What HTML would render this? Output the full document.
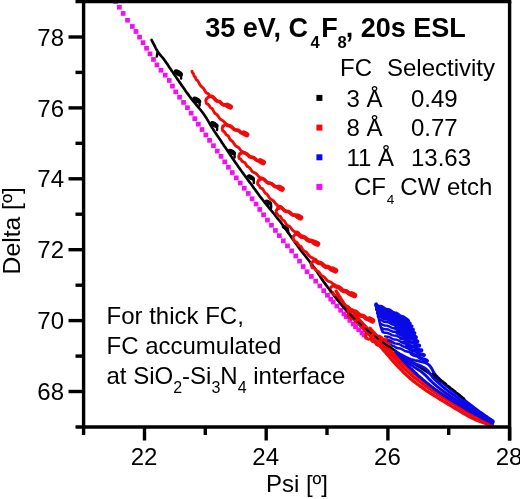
<!DOCTYPE html>
<html><head><meta charset="utf-8"><title>Psi-Delta plot</title>
<style>
html,body{margin:0;padding:0;background:#fff;}
body{width:520px;height:499px;overflow:hidden;}
svg{display:block;}
</style></head><body>
<svg width="520" height="499" viewBox="0 0 520 499">
<rect width="520" height="499" fill="#fff"/>
<g fill="#f20df2">
<rect x="113.2" y="-0.9" width="4.7" height="4.7"/>
<rect x="117.0" y="4.9" width="4.7" height="4.7"/>
<rect x="120.8" y="11.1" width="4.7" height="4.7"/>
<rect x="125.2" y="17.9" width="4.7" height="4.7"/>
<rect x="130.0" y="24.1" width="4.7" height="4.7"/>
<rect x="133.6" y="29.1" width="4.7" height="4.7"/>
<rect x="137.2" y="34.8" width="4.7" height="4.7"/>
<rect x="140.7" y="40.3" width="4.7" height="4.7"/>
<rect x="144.2" y="45.9" width="4.7" height="4.7"/>
<rect x="147.6" y="51.5" width="4.7" height="4.7"/>
<rect x="151.1" y="57.1" width="4.7" height="4.7"/>
<rect x="154.6" y="62.6" width="4.7" height="4.7"/>
<rect x="158.6" y="67.9" width="4.7" height="4.7"/>
<rect x="162.9" y="72.8" width="4.7" height="4.7"/>
<rect x="166.9" y="78.1" width="4.7" height="4.7"/>
<rect x="170.1" y="83.8" width="4.7" height="4.7"/>
<rect x="173.4" y="89.5" width="4.7" height="4.7"/>
<rect x="177.2" y="94.9" width="4.7" height="4.7"/>
<rect x="181.2" y="100.1" width="4.7" height="4.7"/>
<rect x="185.1" y="105.3" width="4.7" height="4.7"/>
<rect x="188.8" y="110.8" width="4.7" height="4.7"/>
<rect x="192.4" y="116.3" width="4.7" height="4.7"/>
<rect x="196.0" y="121.8" width="4.7" height="4.7"/>
<rect x="199.7" y="127.2" width="4.7" height="4.7"/>
<rect x="203.5" y="132.6" width="4.7" height="4.7"/>
<rect x="207.2" y="138.0" width="4.7" height="4.7"/>
<rect x="211.1" y="143.3" width="4.7" height="4.7"/>
<rect x="214.9" y="148.7" width="4.7" height="4.7"/>
<rect x="218.7" y="154.0" width="4.7" height="4.7"/>
<rect x="222.4" y="159.5" width="4.7" height="4.7"/>
<rect x="226.1" y="164.9" width="4.7" height="4.7"/>
<rect x="229.9" y="170.2" width="4.7" height="4.7"/>
<rect x="233.9" y="175.5" width="4.7" height="4.7"/>
<rect x="237.9" y="180.7" width="4.7" height="4.7"/>
<rect x="241.9" y="185.9" width="4.7" height="4.7"/>
<rect x="245.9" y="191.1" width="4.7" height="4.7"/>
<rect x="249.8" y="196.4" width="4.7" height="4.7"/>
<rect x="253.7" y="201.7" width="4.7" height="4.7"/>
<rect x="257.4" y="207.1" width="4.7" height="4.7"/>
<rect x="261.2" y="212.4" width="4.7" height="4.7"/>
<rect x="265.1" y="217.7" width="4.7" height="4.7"/>
<rect x="269.1" y="222.9" width="4.7" height="4.7"/>
<rect x="273.1" y="228.1" width="4.7" height="4.7"/>
<rect x="277.0" y="233.3" width="4.7" height="4.7"/>
<rect x="281.0" y="238.5" width="4.7" height="4.7"/>
<rect x="285.1" y="243.5" width="4.7" height="4.7"/>
<rect x="289.3" y="248.5" width="4.7" height="4.7"/>
<rect x="293.4" y="253.6" width="4.7" height="4.7"/>
<rect x="297.2" y="258.8" width="4.7" height="4.7"/>
<rect x="300.8" y="264.2" width="4.7" height="4.7"/>
<rect x="304.7" y="269.4" width="4.7" height="4.7"/>
<rect x="309.0" y="274.1" width="4.7" height="4.7"/>
<rect x="313.4" y="278.8" width="4.7" height="4.7"/>
<rect x="317.5" y="283.6" width="4.7" height="4.7"/>
<rect x="321.4" y="288.3" width="4.7" height="4.7"/>
<rect x="325.1" y="292.9" width="4.7" height="4.7"/>
<rect x="328.4" y="296.8" width="4.7" height="4.7"/>
<rect x="330.9" y="299.7" width="4.7" height="4.7"/>
<rect x="334.5" y="303.7" width="4.7" height="4.7"/>
<rect x="338.3" y="307.9" width="4.7" height="4.7"/>
<rect x="341.6" y="311.5" width="4.7" height="4.7"/>
<rect x="344.0" y="314.2" width="4.7" height="4.7"/>
<rect x="347.5" y="318.0" width="4.7" height="4.7"/>
<rect x="350.8" y="321.7" width="4.7" height="4.7"/>
<rect x="353.2" y="324.3" width="4.7" height="4.7"/>
<rect x="356.4" y="327.4" width="4.7" height="4.7"/>
<rect x="359.6" y="330.6" width="4.7" height="4.7"/>
<rect x="361.7" y="332.7" width="4.7" height="4.7"/>
</g>
<g fill="none" stroke="#000" stroke-width="2.7" stroke-linecap="round" stroke-linejoin="round">
<path d="M151.6 40.0 L152.0 40.8 L152.4 41.5 L152.8 42.3 L153.2 43.1 L153.6 43.9 L154.0 44.7 L154.4 45.5 L154.8 46.2 L155.2 47.0 L155.6 47.8 L156.0 48.5 L156.4 49.3 L156.8 50.0 L157.2 50.7 L157.6 51.4 L158.0 52.0 L158.4 52.6 L158.8 53.1 L159.1 53.6 L159.5 54.1 L159.8 54.5 L160.2 54.9 L160.5 55.3 L160.9 55.7 L161.2 56.1 L161.6 56.5 L162.0 57.0 L162.4 57.5 L162.9 58.0 L163.4 58.6 L163.9 59.3 L164.4 60.0 L165.0 60.8 L165.6 61.7 L166.2 62.6 L166.9 63.5 L167.6 64.5 L168.3 65.6 L169.0 66.7 L169.7 67.8 L170.5 68.9 L171.2 70.0 L172.0 71.2 L172.8 72.3 L173.6 73.5 L174.4 74.7 L175.2 75.8 L176.0 77.0 L176.8 78.2 L177.6 79.4 L178.5 80.6 L179.3 81.9 L180.2 83.1 L181.1 84.4 L182.0 85.7 L182.9 87.0 L183.8 88.3 L184.7 89.6 L185.6 90.9 L186.5 92.2 L187.4 93.4 L188.3 94.6 L189.1 95.8 L190.0 97.0 L190.9 98.1 L191.7 99.2 L192.6 100.3 L193.4 101.4 L194.3 102.4 L195.2 103.4 L196.0 104.5 L196.9 105.5 L197.7 106.5 L198.6 107.5 L199.4 108.5 L200.2 109.5 L201.0 110.5 L201.8 111.5 L202.6 112.5 L203.3 113.5 L204.0 114.5 L204.7 115.5 L205.4 116.6 L206.0 117.6 L206.7 118.6 L207.3 119.6 L207.9 120.6 L208.5 121.6 L209.1 122.6 L209.7 123.7 L210.3 124.7 L210.9 125.7 L211.6 126.8 L212.2 127.8 L212.9 128.9 L213.6 130.0 L214.3 131.1 L215.0 132.2 L215.8 133.3 L216.6 134.5 L217.3 135.6 L218.1 136.8 L218.9 138.0 L219.7 139.1 L220.5 140.3 L221.3 141.5 L222.0 142.7 L222.8 143.8 L223.6 145.0 L224.4 146.2 L225.2 147.3 L226.0 148.5 L226.8 149.6 L227.5 150.8 L228.3 151.9 L229.0 153.0 L229.7 154.1 L230.5 155.2 L231.2 156.3 L231.9 157.4 L232.7 158.5 L233.4 159.6 L234.2 160.7 L235.0 161.9 L235.8 163.1 L236.7 164.3 L237.6 165.6 L238.5 166.9 L239.5 168.3 L240.5 169.7 L241.6 171.3 L242.8 172.9 L244.0 174.5 L245.2 176.1 L246.4 177.8 L247.6 179.5 L248.8 181.1 L250.0 182.7 L251.2 184.3 L252.3 185.8 L253.3 187.2 L254.3 188.6 L255.2 189.8 L256.0 190.9 L256.7 191.9 L257.3 192.6 L257.8 193.3 L258.2 193.9 L258.5 194.3 L258.8 194.7 L259.0 195.1 L259.3 195.5 L259.5 195.8 L259.8 196.2 L260.1 196.6 L260.5 197.0 L260.9 197.6 L261.4 198.3 L262.1 199.0 L262.8 200.0 L263.7 201.1 L264.6 202.3 L265.7 203.6 L266.8 205.0 L268.0 206.4 L269.2 208.0 L270.5 209.5 L271.8 211.2 L273.2 212.8 L274.5 214.5 L275.8 216.1 L277.1 217.8 L278.4 219.4 L279.7 221.0 L280.9 222.5 L282.0 224.0 L283.1 225.5 L284.2 226.9 L285.2 228.3 L286.2 229.8 L287.2 231.2 L288.2 232.6 L289.2 234.0 L290.2 235.5 L291.2 236.9 L292.1 238.3 L293.1 239.6 L294.1 241.0 L295.0 242.4 L296.0 243.8 L297.0 245.1 L298.0 246.5 L299.0 247.9 L300.0 249.2 L301.1 250.6 L302.1 252.0 L303.2 253.3 L304.3 254.7 L305.3 256.0 L306.4 257.4 L307.4 258.7 L308.4 260.0 L309.4 261.3 L310.4 262.6 L311.4 263.8 L312.3 265.0 L313.2 266.2 L314.0 267.3 L314.8 268.4 L315.5 269.4 L316.2 270.4 L316.8 271.3 L317.4 272.2 L317.9 273.1 L318.5 273.9 L319.0 274.8 L319.5 275.6 L320.1 276.4 L320.6 277.3 L321.2 278.2 L321.8 279.1 L322.5 280.1 L323.2 281.1 L324.0 282.2 L324.8 283.3 L325.7 284.6 L326.7 285.8 L327.6 287.1 L328.7 288.5 L329.7 289.8 L330.7 291.2 L331.8 292.6 L332.9 294.0 L334.0 295.4 L335.0 296.8 L336.1 298.1 L337.1 299.4 L338.1 300.7 L339.1 301.9 L340.0 303.0 L340.9 304.1 L341.8 305.1 L342.6 306.1 L343.4 307.1 L344.2 308.1 L345.0 309.0 L345.8 309.9 L346.6 310.8 L347.4 311.6 L348.2 312.5 L348.9 313.3 L349.7 314.1 L350.5 315.0 L351.3 315.8 L352.2 316.7 L353.0 317.5 L353.8 318.3 L354.6 319.1 L355.3 319.8 L356.1 320.6 L356.8 321.3 L357.5 321.9 L358.2 322.6 L358.9 323.3 L359.7 324.0 L360.6 324.8 L361.5 325.6 L362.4 326.4 L363.5 327.2 L364.6 328.2 L365.9 329.2 L367.3 330.3 L368.8 331.5 L370.5 332.7 L372.2 334.1 L374.0 335.5 L376.0 336.9 L378.0 338.4 L380.0 339.9 L382.1 341.5 L384.3 343.0 L386.5 344.6 L388.7 346.2 L390.9 347.8 L393.1 349.4 L395.3 350.9 L397.5 352.5 L399.7 354.0 L401.9 355.5 L404.1 357.0 L406.4 358.5 L408.7 360.0 L411.0 361.6 L413.4 363.1 L415.8 364.6 L418.1 366.2 L420.5 367.7 L422.8 369.2 L425.1 370.7 L427.4 372.2 L429.7 373.7 L431.8 375.1 L434.0 376.6 L436.0 378.0 L438.0 379.4 L439.9 380.8 L441.8 382.1 L443.6 383.5 L445.4 384.8 L447.1 386.1 L448.8 387.4 L450.5 388.7 L452.2 390.0 L453.9 391.3 L455.5 392.5 L457.2 393.8 L458.9 395.1 L460.6 396.4 L462.3 397.7 L464.0 399.0"/>
<ellipse cx="178.3" cy="73.0" rx="4.6" ry="2.3" transform="rotate(30 178.3 73.0)" fill="#000" stroke-width="1"/>
<path d="M181.1 75.2 L181.1 78.5" stroke-width="2.4"/>
<ellipse cx="196.8" cy="100.0" rx="4.4" ry="2.2" transform="rotate(30 196.8 100.0)" fill="#000" stroke-width="1"/>
<path d="M199.6 102.2 L199.6 105.5" stroke-width="2.4"/>
<ellipse cx="214.3" cy="124.5" rx="4.2" ry="2.1" transform="rotate(30 214.3 124.5)" fill="#000" stroke-width="1"/>
<path d="M217.1 126.7 L217.1 130.0" stroke-width="2.4"/>
<ellipse cx="231.8" cy="152.0" rx="4.0" ry="2.0" transform="rotate(30 231.8 152.0)" fill="#000" stroke-width="1"/>
<path d="M234.6 154.2 L234.6 157.5" stroke-width="2.4"/>
<ellipse cx="251.0" cy="177.5" rx="3.9" ry="1.9" transform="rotate(30 251.0 177.5)" fill="#000" stroke-width="1"/>
<path d="M253.8 179.7 L253.8 183.0" stroke-width="2.4"/>
<ellipse cx="268.3" cy="202.5" rx="3.7" ry="1.8" transform="rotate(30 268.3 202.5)" fill="#000" stroke-width="1"/>
<path d="M271.1 204.7 L271.1 208.0" stroke-width="2.4"/>
<ellipse cx="285.3" cy="227.5" rx="3.5" ry="1.7" transform="rotate(30 285.3 227.5)" fill="#000" stroke-width="1"/>
<path d="M288.1 229.7 L288.1 233.0" stroke-width="2.4"/>
<path d="M157.5 52.5 L156.8 56.5" stroke-width="2.4"/>
</g>
<g fill="none" stroke="#f20a0a" stroke-width="2.9" stroke-linecap="round" stroke-linejoin="round">
<path d="M192.0 71.2 L192.3 72.3 L192.6 72.9 L192.9 73.0 L193.2 73.2 L193.5 73.9 L193.8 75.1 L194.1 76.1 L194.5 76.5 L194.9 76.6 L195.2 76.9 L195.5 77.7 L195.9 78.9 L196.3 79.7 L196.8 80.1 L197.3 80.3 L198.0 81.1 L198.8 82.6 L199.7 84.4 L200.8 85.9 L201.8 86.8 L203.0 87.8 L204.0 89.2 L205.1 91.0 L206.0 92.5 L206.8 93.2 L207.5 93.4 L208.2 93.6 L208.8 94.3 L209.5 95.4 L210.2 96.2 L211.0 96.4 L211.9 96.5 L212.9 97.0 L214.1 98.2 L215.3 99.7 L216.6 100.7 L217.8 101.2 L219.1 101.5 L220.4 102.2 L221.5 103.4 L222.7 104.5 L223.8 104.9 L224.9 104.8 L225.9 104.8 L227.0 105.3 L228.1 106.3 L229.1 107.0 L230.2 107.2"/>
<path d="M211.9 96.5 L212.9 97.0 L214.1 98.2 L215.3 99.7 L216.6 100.7 L217.8 101.2 L219.1 101.5 L220.4 102.2 L221.5 103.4 L222.7 104.5 L223.8 104.9 L224.9 104.8 L225.9 104.8 L227.0 105.3 L228.1 106.3 L229.1 107.0 L230.2 107.2" stroke-width="3.7"/>
<path d="M227.4 105.4 L230.2 106.9" stroke-width="5.6"/>
<path d="M209.9 96.8 L209.5 97.1 L209.0 96.9 L208.5 96.7 L208.0 97.1 L207.5 97.9 L207.1 98.6 L206.8 98.8 L206.5 98.6 L206.3 98.6 L206.1 99.3 L205.9 100.3 L205.8 101.0 L205.8 101.1 L205.9 101.0 L206.0 101.3 L206.2 102.3 L206.5 103.4 L207.0 104.0 L207.5 104.2 L208.1 104.3 L208.8 104.9 L209.5 106.1 L210.2 107.3 L210.9 108.0 L211.6 108.3 L212.3 108.8 L213.0 109.9 L213.7 111.4 L214.5 112.8 L215.3 113.6 L216.2 114.0 L217.1 114.8 L218.1 116.2 L219.2 117.8 L220.3 119.2 L221.4 119.9 L222.6 120.5 L223.8 121.5 L225.1 123.0 L226.3 124.5 L227.6 125.4 L228.9 125.7 L230.3 126.1 L231.7 127.0 L233.0 128.3 L234.4 129.5 L235.8 130.0 L237.0 130.1 L238.3 130.4 L239.5 131.2 L240.7 132.3 L241.9 133.1 L243.1 133.3 L244.2 133.2 L245.4 133.5 L246.6 134.5"/>
<path d="M226.3 124.5 L227.6 125.4 L228.9 125.7 L230.3 126.1 L231.7 127.0 L233.0 128.3 L234.4 129.5 L235.8 130.0 L237.0 130.1 L238.3 130.4 L239.5 131.2 L240.7 132.3 L241.9 133.1 L243.1 133.3 L244.2 133.2 L245.4 133.5 L246.6 134.5" stroke-width="3.7"/>
<path d="M243.8 133.1 L246.6 134.6" stroke-width="5.6"/>
<path d="M226.3 124.5 L225.9 124.3 L225.4 124.1 L224.9 124.4 L224.4 125.2 L223.9 126.0 L223.5 126.2 L223.2 126.0 L222.9 126.0 L222.7 126.5 L222.5 127.5 L222.3 128.2 L222.2 128.4 L222.2 128.3 L222.2 128.5 L222.4 129.4 L222.6 130.5 L222.9 131.2 L223.4 131.3 L223.9 131.4 L224.5 132.0 L225.2 133.1 L225.9 134.3 L226.6 135.0 L227.3 135.3 L228.0 135.7 L228.7 136.7 L229.4 138.2 L230.2 139.6 L231.0 140.4 L231.8 140.8 L232.7 141.6 L233.6 142.9 L234.6 144.5 L235.7 145.9 L236.8 146.7 L238.0 147.2 L239.2 148.2 L240.4 149.8 L241.7 151.4 L242.9 152.4 L244.2 152.8 L245.5 153.2 L246.9 154.1 L248.3 155.4 L249.6 156.6 L251.0 157.2 L252.4 157.4 L253.6 157.7 L254.9 158.5 L256.1 159.7 L257.3 160.5 L258.5 160.7 L259.7 160.7 L260.8 160.9 L262.0 161.8 L263.2 162.9"/>
<path d="M242.9 152.4 L244.2 152.8 L245.5 153.2 L246.9 154.1 L248.3 155.4 L249.6 156.6 L251.0 157.2 L252.4 157.4 L253.6 157.7 L254.9 158.5 L256.1 159.7 L257.3 160.5 L258.5 160.7 L259.7 160.7 L260.8 160.9 L262.0 161.8 L263.2 162.9" stroke-width="3.7"/>
<path d="M260.4 161.0 L263.2 162.5" stroke-width="5.6"/>
<path d="M242.9 152.0 L242.5 151.8 L242.0 152.0 L241.5 152.8 L241.0 153.6 L240.5 153.8 L240.1 153.6 L239.8 153.5 L239.5 154.0 L239.3 155.0 L239.1 155.7 L238.9 155.9 L238.8 155.8 L238.8 156.0 L238.8 156.8 L239.0 157.8 L239.2 158.5 L239.6 158.7 L240.1 158.6 L240.7 159.1 L241.3 160.1 L242.1 161.2 L242.8 161.8 L243.6 162.0 L244.4 162.3 L245.2 163.1 L246.0 164.5 L246.8 165.8 L247.6 166.6 L248.5 167.0 L249.4 167.6 L250.4 168.8 L251.4 170.4 L252.5 171.7 L253.7 172.4 L255.0 172.9 L256.3 173.8 L257.7 175.3 L259.0 176.9 L260.4 178.0 L261.7 178.5 L263.0 178.8 L264.4 179.7 L265.7 181.0 L267.1 182.3 L268.5 183.0 L269.8 183.2 L271.2 183.5 L272.5 184.3 L273.7 185.5 L274.9 186.5 L276.1 186.8 L277.3 186.7 L278.5 186.9 L279.6 187.7 L280.8 188.8 L282.0 189.5"/>
<path d="M261.7 178.5 L263.0 178.8 L264.4 179.7 L265.7 181.0 L267.1 182.3 L268.5 183.0 L269.8 183.2 L271.2 183.5 L272.5 184.3 L273.7 185.5 L274.9 186.5 L276.1 186.8 L277.3 186.7 L278.5 186.9 L279.6 187.7 L280.8 188.8 L282.0 189.5" stroke-width="3.7"/>
<path d="M279.2 187.5 L282.0 189.0" stroke-width="5.6"/>
<path d="M261.7 178.0 L261.3 178.2 L260.8 179.0 L260.3 179.8 L259.8 180.1 L259.3 179.8 L258.9 179.7 L258.6 180.1 L258.3 181.0 L258.1 181.8 L257.9 182.0 L257.7 181.9 L257.6 182.0 L257.6 182.7 L257.6 183.7 L257.8 184.5 L258.0 184.7 L258.4 184.7 L258.9 185.2 L259.5 186.2 L260.1 187.4 L260.8 188.2 L261.6 188.5 L262.4 188.7 L263.1 189.6 L263.9 191.0 L264.7 192.4 L265.5 193.3 L266.3 193.7 L267.1 194.4 L268.1 195.6 L269.0 197.3 L270.1 198.7 L271.2 199.5 L272.4 200.1 L273.6 201.0 L274.9 202.6 L276.2 204.3 L277.5 205.6 L278.9 206.3 L280.2 206.8 L281.5 207.6 L282.9 209.0 L284.2 210.3 L285.6 211.1 L287.0 211.4 L288.3 211.6 L289.7 212.4 L291.0 213.6 L292.2 214.7 L293.4 215.1 L294.6 215.0 L295.8 215.2 L297.0 216.0 L298.1 217.1 L299.3 217.8 L300.5 218.0"/>
<path d="M280.2 206.8 L281.5 207.6 L282.9 209.0 L284.2 210.3 L285.6 211.1 L287.0 211.4 L288.3 211.6 L289.7 212.4 L291.0 213.6 L292.2 214.7 L293.4 215.1 L294.6 215.0 L295.8 215.2 L297.0 216.0 L298.1 217.1 L299.3 217.8 L300.5 218.0" stroke-width="3.7"/>
<path d="M297.7 216.3 L300.5 217.8" stroke-width="5.6"/>
<path d="M280.2 206.7 L279.8 207.4 L279.3 208.2 L278.8 208.6 L278.3 208.4 L277.8 208.2 L277.4 208.5 L277.1 209.4 L276.8 210.2 L276.6 210.5 L276.4 210.3 L276.2 210.4 L276.1 211.0 L276.1 212.1 L276.1 212.9 L276.3 213.1 L276.5 213.0 L276.8 213.3 L277.3 214.1 L277.9 215.2 L278.5 215.9 L279.2 216.1 L279.9 216.1 L280.6 216.7 L281.3 217.9 L282.0 219.2 L282.7 220.0 L283.5 220.4 L284.2 220.9 L285.0 221.9 L285.9 223.5 L286.8 224.8 L287.8 225.6 L288.8 226.0 L289.9 226.7 L291.0 228.1 L292.2 229.7 L293.4 231.0 L294.7 231.6 L295.9 232.1 L297.2 232.9 L298.5 234.2 L299.8 235.6 L301.2 236.5 L302.6 236.8 L303.9 237.1 L305.3 237.9 L306.7 239.1 L308.0 240.2 L309.2 240.7 L310.4 240.7 L311.6 240.9 L312.8 241.7 L314.0 242.7 L315.1 243.5 L316.3 243.7 L317.5 243.7"/>
<path d="M297.2 232.9 L298.5 234.2 L299.8 235.6 L301.2 236.5 L302.6 236.8 L303.9 237.1 L305.3 237.9 L306.7 239.1 L308.0 240.2 L309.2 240.7 L310.4 240.7 L311.6 240.9 L312.8 241.7 L314.0 242.7 L315.1 243.5 L316.3 243.7 L317.5 243.7" stroke-width="4.5"/>
<path d="M314.7 242.5 L317.5 244.0" stroke-width="5.6"/>
<path d="M297.2 233.2 L296.8 234.1 L296.3 234.5 L295.8 234.4 L295.3 234.1 L294.8 234.4 L294.4 235.2 L294.1 236.0 L293.8 236.3 L293.6 236.2 L293.4 236.2 L293.2 236.7 L293.1 237.7 L293.1 238.6 L293.1 238.8 L293.3 238.7 L293.5 239.0 L293.9 239.8 L294.3 240.9 L294.9 241.7 L295.6 241.8 L296.3 241.9 L297.0 242.4 L297.8 243.5 L298.5 244.8 L299.3 245.6 L300.0 246.0 L300.8 246.4 L301.6 247.4 L302.4 249.0 L303.3 250.4 L304.3 251.2 L305.3 251.6 L306.4 252.3 L307.5 253.6 L308.7 255.3 L310.0 256.6 L311.3 257.4 L312.6 257.9 L313.9 258.7 L315.2 260.1 L316.5 261.5 L317.9 262.5 L319.2 262.9 L320.6 263.1 L322.0 263.9 L323.3 265.1 L324.7 266.3 L326.0 266.9 L327.2 267.0 L328.4 267.2 L329.6 267.9 L330.8 269.0 L332.0 269.8 L333.1 270.1 L334.3 270.0 L335.5 270.3"/>
<path d="M315.2 260.1 L316.5 261.5 L317.9 262.5 L319.2 262.9 L320.6 263.1 L322.0 263.9 L323.3 265.1 L324.7 266.3 L326.0 266.9 L327.2 267.0 L328.4 267.2 L329.6 267.9 L330.8 269.0 L332.0 269.8 L333.1 270.1 L334.3 270.0 L335.5 270.3" stroke-width="4.5"/>
<path d="M332.7 269.3 L335.5 270.8" stroke-width="5.6"/>
<path d="M315.2 260.6 L314.8 261.0 L314.3 260.9 L313.8 260.7 L313.3 260.9 L312.8 261.6 L312.4 262.5 L312.1 262.8 L311.8 262.6 L311.6 262.6 L311.4 263.1 L311.2 264.1 L311.1 264.9 L311.1 265.2 L311.1 265.1 L311.3 265.3 L311.5 266.0 L311.9 267.1 L312.4 267.8 L313.0 267.9 L313.7 267.8 L314.4 268.1 L315.2 269.1 L316.0 270.2 L316.8 270.9 L317.5 271.2 L318.3 271.4 L319.1 272.3 L320.0 273.7 L320.9 275.0 L321.8 275.8 L322.8 276.2 L323.8 276.7 L325.0 277.8 L326.2 279.4 L327.5 280.7 L328.8 281.4 L330.1 281.8 L331.5 282.5 L332.9 283.8 L334.2 285.3 L335.5 286.3 L336.9 286.7 L338.3 287.0 L339.6 287.8 L341.0 289.0 L342.3 290.3 L343.7 291.0 L345.0 291.1 L346.2 291.3 L347.4 292.0 L348.6 293.1 L349.8 294.0 L351.0 294.3 L352.1 294.2 L353.3 294.4 L354.5 295.2"/>
<path d="M334.2 285.3 L335.5 286.3 L336.9 286.7 L338.3 287.0 L339.6 287.8 L341.0 289.0 L342.3 290.3 L343.7 291.0 L345.0 291.1 L346.2 291.3 L347.4 292.0 L348.6 293.1 L349.8 294.0 L351.0 294.3 L352.1 294.2 L353.3 294.4 L354.5 295.2" stroke-width="4.5"/>
<path d="M351.7 294.0 L354.5 295.5" stroke-width="5.6"/>
<path d="M334.2 285.4 L333.8 285.4 L333.3 285.1 L332.8 285.3 L332.3 286.0 L331.8 286.8 L331.4 287.2 L331.1 287.0 L330.8 286.9 L330.6 287.3 L330.4 288.3 L330.2 289.2 L330.1 289.5 L330.1 289.4 L330.1 289.5 L330.3 290.2 L330.5 291.2 L330.9 292.0 L331.3 292.2 L331.9 292.1 L332.6 292.4 L333.3 293.3 L334.0 294.4 L334.8 295.1 L335.5 295.4 L336.3 295.6 L337.0 296.3 L337.8 297.7 L338.6 299.1 L339.4 299.9 L340.3 300.3 L341.3 300.8 L342.3 301.9 L343.4 303.4 L344.5 304.8 L345.7 305.5 L347.0 306.0 L348.3 306.7 L349.6 308.0 L350.9 309.5 L352.2 310.6 L353.5 311.1 L354.9 311.4 L356.2 312.1 L357.6 313.4 L359.0 314.7 L360.3 315.5 L361.7 315.7 L363.0 315.9 L364.2 316.6 L365.4 317.7 L366.6 318.7 L367.8 319.1 L369.0 319.0 L370.1 319.1 L371.3 319.9 L372.5 321.0"/>
<path d="M352.2 310.6 L353.5 311.1 L354.9 311.4 L356.2 312.1 L357.6 313.4 L359.0 314.7 L360.3 315.5 L361.7 315.7 L363.0 315.9 L364.2 316.6 L365.4 317.7 L366.6 318.7 L367.8 319.1 L369.0 319.0 L370.1 319.1 L371.3 319.9 L372.5 321.0" stroke-width="4.5"/>
<path d="M369.7 319.2 L372.5 320.7" stroke-width="5.6"/>
<path d="M352.2 310.3 L351.8 310.1 L351.3 310.2 L350.8 310.8 L350.3 311.7 L349.8 312.1 L349.4 312.0 L349.1 311.8 L348.8 312.1 L348.6 313.0 L348.4 313.9 L348.2 314.3 L348.1 314.2 L348.1 314.3 L348.1 314.9 L348.3 316.0 L348.5 316.7 L348.9 316.9 L349.3 316.7 L349.9 316.7 L350.5 317.4 L351.2 318.3 L351.9 318.9 L352.7 318.9 L353.4 318.9 L354.1 319.4 L354.9 320.5 L355.6 321.8 L356.4 322.5 L357.2 322.8 L358.1 323.2 L359.0 324.0 L360.0 325.4 L361.1 326.6 L362.2 327.2 L363.4 327.5 L364.6 328.0 L365.9 329.1 L367.1 330.5 L368.4 331.6 L369.7 332.1 L371.0 332.4 L372.3 333.0 L373.7 334.2 L375.1 335.6 L376.5 336.5 L377.8 336.8 L379.2 337.0 L380.5 337.7 L381.7 338.9 L382.9 339.9 L384.1 340.4 L385.3 340.4 L386.5 340.4 L387.6 341.1 L388.8 342.2 L390.0 343.0"/>
<path d="M369.7 332.1 L371.0 332.4 L372.3 333.0 L373.7 334.2 L375.1 335.6 L376.5 336.5 L377.8 336.8 L379.2 337.0 L380.5 337.7 L381.7 338.9 L382.9 339.9 L384.1 340.4 L385.3 340.4 L386.5 340.4 L387.6 341.1 L388.8 342.2 L390.0 343.0" stroke-width="4.5"/>
<path d="M387.2 341.0 L390.0 342.5" stroke-width="5.6"/>
<path d="M369.7 331.6 L369.3 331.7 L368.8 332.3 L368.3 333.2 L367.8 333.6 L367.3 333.5 L366.9 333.3 L366.6 333.5 L366.3 334.4 L366.1 335.3 L365.9 335.7 L365.7 335.7 L365.7 335.7 L365.6 336.3 L365.7 337.4 L365.8 338.2 L366.0 338.3 L366.3 338.0 L366.8 337.9 L367.3 338.3 L367.9 339.0 L368.5 339.4 L369.2 339.2 L369.9 338.9 L370.6 339.1 L371.3 339.9 L371.9 341.0 L372.6 341.6 L373.4 341.7 L374.1 341.9 L374.9 342.5 L375.8 343.7 L376.7 344.8 L377.7 345.3 L378.7 345.3 L379.8 345.5 L380.9 346.4 L382.1 347.6 L383.3 348.6 L384.5 349.0 L385.7 349.1 L387.0 349.6 L388.3 350.8 L389.7 352.1 L391.0 353.1 L392.4 353.5 L393.8 353.8 L395.2 354.5 L396.5 355.7 L397.7 356.8 L398.9 357.4 L400.1 357.4 L401.3 357.5 L402.5 358.1 L403.6 359.1 L404.8 360.0 L406.0 360.3"/>
<path d="M385.7 349.1 L387.0 349.6 L388.3 350.8 L389.7 352.1 L391.0 353.1 L392.4 353.5 L393.8 353.8 L395.2 354.5 L396.5 355.7 L397.7 356.8 L398.9 357.4 L400.1 357.4 L401.3 357.5 L402.5 358.1 L403.6 359.1 L404.8 360.0 L406.0 360.3" stroke-width="4.5"/>
<path d="M403.2 358.5 L406.0 360.0" stroke-width="5.6"/>
<path d="M336.0 291.0 L337.5 293.2 L338.9 295.5 L340.3 297.7 L341.7 300.0 L343.1 302.2 L344.5 304.4 L345.9 306.7 L347.4 308.9 L348.9 311.2 L350.5 313.4 L352.2 315.7 L354.0 318.0 L355.9 320.3 L358.0 322.8 L360.2 325.2 L362.5 327.8 L364.9 330.3 L367.2 332.8 L369.6 335.2 L371.9 337.7 L374.2 340.0 L376.3 342.2 L378.2 344.3 L380.0 346.2 L381.6 348.0 L383.0 349.6 L384.3 351.1 L385.6 352.5 L386.7 353.9 L387.8 355.1 L388.8 356.3 L389.8 357.5 L390.8 358.7 L391.8 359.9 L392.9 361.1 L394.0 362.3 L395.2 363.6 L396.3 364.8 L397.5 366.1 L398.7 367.3 L399.8 368.5 L401.0 369.7 L402.2 370.9 L403.3 372.1 L404.5 373.2 L405.7 374.3 L406.8 375.4 L408.0 376.5 L409.2 377.5 L410.3 378.5 L411.5 379.5 L412.7 380.5 L413.8 381.4 L415.0 382.3 L416.2 383.2 L417.3 384.1 L418.5 385.0 L419.7 385.8 L420.8 386.7 L422.0 387.5 L423.2 388.3 L424.3 389.2 L425.5 390.0 L426.7 390.8 L427.9 391.5 L429.1 392.3 L430.3 393.1 L431.4 393.8 L432.6 394.5 L433.7 395.3 L434.9 396.0 L436.0 396.7 L437.1 397.4 L438.1 398.0 L439.0 398.6 L439.9 399.2 L440.8 399.8 L441.8 400.3 L442.7 400.9 L443.7 401.5 L444.8 402.2 L446.0 402.9 L447.3 403.7 L448.7 404.5 L450.3 405.4 L452.0 406.5 L453.8 407.6 L455.8 408.8 L457.8 410.0 L459.8 411.2 L461.9 412.5 L464.0 413.7 L466.1 414.9 L468.1 416.0 L470.1 417.0 L472.0 418.0 L473.8 418.9 L475.6 419.7 L477.4 420.4 L479.2 421.2 L480.9 421.8 L482.6 422.5 L484.4 423.1 L486.1 423.7 L487.8 424.3 L489.5 425.0 L491.3 425.6 L493.0 426.3" stroke-width="3.2"/>
<path d="M354.0 314.0 L356.2 316.4 L358.5 318.8 L360.8 321.3 L363.1 323.8 L365.4 326.3 L367.8 328.8 L370.0 331.2 L372.2 333.6 L374.3 335.8 L376.4 338.0 L378.3 340.1 L380.0 342.0 L381.6 343.8 L383.0 345.4 L384.3 346.9 L385.6 348.3 L386.7 349.6 L387.8 350.9 L388.8 352.1 L389.8 353.3 L390.8 354.4 L391.8 355.6 L392.9 356.8 L394.0 358.0 L395.2 359.2 L396.3 360.5 L397.5 361.7 L398.7 362.9 L399.8 364.1 L401.0 365.3 L402.2 366.4 L403.3 367.6 L404.5 368.7 L405.7 369.8 L406.8 370.9 L408.0 372.0 L409.2 373.1 L410.3 374.1 L411.5 375.1 L412.7 376.1 L413.8 377.1 L415.0 378.0 L416.2 379.0 L417.3 379.9 L418.5 380.8 L419.7 381.7 L420.8 382.6 L422.0 383.5 L423.2 384.4 L424.3 385.2 L425.5 386.1 L426.7 386.9 L427.9 387.7 L429.1 388.5 L430.3 389.2 L431.4 390.0 L432.6 390.8 L433.7 391.5 L434.9 392.3 L436.0 393.0 L437.1 393.7 L438.1 394.4 L439.0 395.0 L439.9 395.6 L440.8 396.1 L441.8 396.7 L442.7 397.3 L443.7 397.9 L444.8 398.6 L446.0 399.3 L447.3 400.1 L448.7 401.0 L450.3 402.0 L452.0 403.0 L453.8 404.2 L455.8 405.4 L457.8 406.6 L459.9 407.9 L462.0 409.1 L464.0 410.4 L466.1 411.6 L468.2 412.8 L470.1 414.0 L472.0 415.0 L473.8 416.0 L475.6 416.9 L477.3 417.8 L479.0 418.6 L480.7 419.5 L482.4 420.2 L484.1 421.0 L485.8 421.8 L487.4 422.6 L489.1 423.4 L490.8 424.2 L492.5 425.0" stroke-width="3.2"/>
<path d="M370.0 328.0 L372.0 330.2 L374.1 332.6 L376.2 334.9 L378.4 337.3 L380.5 339.7 L382.6 342.1 L384.7 344.4 L386.7 346.6 L388.7 348.8 L390.6 350.8 L392.4 352.7 L394.0 354.5 L395.5 356.1 L396.9 357.5 L398.2 358.8 L399.4 360.0 L400.5 361.1 L401.6 362.2 L402.7 363.1 L403.7 364.1 L404.7 365.0 L405.8 366.0 L406.9 367.0 L408.0 368.0 L409.2 369.1 L410.3 370.1 L411.5 371.2 L412.7 372.2 L413.8 373.2 L415.0 374.2 L416.2 375.2 L417.3 376.2 L418.5 377.2 L419.7 378.1 L420.8 379.1 L422.0 380.0 L423.2 380.9 L424.3 381.8 L425.5 382.7 L426.7 383.6 L427.9 384.4 L429.1 385.2 L430.3 386.1 L431.4 386.9 L432.6 387.7 L433.7 388.5 L434.9 389.2 L436.0 390.0 L437.1 390.7 L438.1 391.4 L439.0 392.0 L439.9 392.6 L440.8 393.1 L441.8 393.7 L442.7 394.3 L443.7 394.9 L444.8 395.6 L446.0 396.3 L447.3 397.1 L448.7 398.0 L450.3 399.0 L452.0 400.1 L453.9 401.3 L455.8 402.5 L457.9 403.8 L460.0 405.1 L462.1 406.4 L464.2 407.7 L466.2 409.0 L468.2 410.2 L470.2 411.4 L472.0 412.5 L473.7 413.5 L475.4 414.5 L477.1 415.4 L478.7 416.3 L480.2 417.2 L481.8 418.0 L483.3 418.8 L484.8 419.6 L486.4 420.5 L487.9 421.3 L489.4 422.1 L491.0 423.0" stroke-width="3"/>
</g>
<path d="M322 279.5 L340 303 L353 317.5 L367.3 330.3 L392 349.5" fill="none" stroke="#000" stroke-width="2" stroke-dasharray="7 5 4 6" stroke-linecap="round"/>
<g fill="none" stroke="#0a0ae6" stroke-width="3" stroke-linecap="round" stroke-linejoin="round">
<path d="M376.3 305.3 L378.3 306.6 L380.3 306.8 L382.2 307.3 L384.2 308.7 L386.2 309.7 L388.2 309.9 L390.2 310.8 L392.1 312.3 L394.1 313.1 L396.1 313.5 L398.1 314.9 L400.1 316.4 L402.1 317.0 L404.0 317.7 L406.0 319.3 L408.0 320.6" stroke-width="4.0"/>
<path d="M377.0 309.4 L379.1 310.0 L381.1 310.1 L383.1 311.3 L385.2 312.6 L387.2 312.9 L389.3 313.3 L391.4 314.7 L393.4 315.9 L395.4 316.1 L397.5 317.0 L399.5 318.7 L401.6 319.6 L403.6 320.0 L405.7 321.3 L407.7 322.9 L409.8 323.5" stroke-width="4.0"/>
<path d="M377.8 312.9 L379.9 313.0 L382.0 313.7 L384.1 315.1 L386.2 315.8 L388.3 315.9 L390.4 317.0 L392.5 318.4 L394.6 318.8 L396.8 319.3 L398.9 320.7 L401.0 322.1 L403.1 322.5 L405.2 323.3 L407.3 325.0 L409.4 326.0 L411.5 326.3" stroke-width="4.0"/>
<path d="M378.6 316.1 L380.8 316.3 L382.9 317.6 L385.1 318.7 L387.2 318.8 L389.4 319.4 L391.5 320.8 L393.7 321.7 L395.8 321.8 L397.9 322.9 L400.1 324.4 L402.2 325.1 L404.4 325.6 L406.6 327.0 L408.7 328.5 L410.9 328.9 L413.0 329.6" stroke-width="4.0"/>
<path d="M379.4 319.5 L381.6 320.3 L383.8 321.7 L386.0 322.1 L388.2 322.2 L390.4 323.4 L392.6 324.6 L394.8 324.8 L396.9 325.3 L399.1 326.8 L401.3 327.9 L403.5 328.2 L405.7 329.1 L407.9 330.8 L410.1 331.6 L412.3 331.9 L414.5 333.2" stroke-width="2.4"/>
<path d="M394.8 324.8 L396.9 325.3 L399.1 326.8 L401.3 327.9 L403.5 328.2 L405.7 329.1 L407.9 330.8 L410.1 331.6 L412.3 331.9 L414.5 333.2" stroke-width="3.9"/>
<path d="M380.2 323.4 L382.4 324.7 L384.7 325.6 L386.9 325.6 L389.1 326.3 L391.4 327.7 L393.6 328.3 L395.9 328.4 L398.1 329.5 L400.3 330.9 L402.6 331.3 L404.8 331.8 L407.1 333.3 L409.3 334.6 L411.5 334.9 L413.8 335.7 L416.0 337.3" stroke-width="2.4"/>
<path d="M395.9 328.4 L398.1 329.5 L400.3 330.9 L402.6 331.3 L404.8 331.8 L407.1 333.3 L409.3 334.6 L411.5 334.9 L413.8 335.7 L416.0 337.3" stroke-width="3.9"/>
<path d="M381.4 327.7 L383.7 329.0 L385.9 329.2 L388.2 329.5 L390.4 330.7 L392.7 331.7 L394.9 331.8 L397.2 332.4 L399.4 333.9 L401.7 334.7 L404.0 335.0 L406.2 336.1 L408.5 337.6 L410.7 338.2 L413.0 338.7 L415.2 340.1 L417.5 341.4" stroke-width="2.4"/>
<path d="M397.2 332.4 L399.4 333.9 L401.7 334.7 L404.0 335.0 L406.2 336.1 L408.5 337.6 L410.7 338.2 L413.0 338.7 L415.2 340.1 L417.5 341.4" stroke-width="3.9"/>
<path d="M382.8 332.1 L385.1 332.8 L387.4 332.9 L389.6 333.8 L391.9 335.1 L394.2 335.6 L396.5 335.8 L398.8 337.0 L401.1 338.3 L403.3 338.6 L405.6 339.2 L407.9 340.8 L410.2 341.9 L412.5 342.2 L414.7 343.3 L417.0 344.9 L419.3 345.7" stroke-width="2.4"/>
<path d="M401.1 338.3 L403.3 338.6 L405.6 339.2 L407.9 340.8 L410.2 341.9 L412.5 342.2 L414.7 343.3 L417.0 344.9 L419.3 345.7" stroke-width="3.9"/>
<path d="M385.0 336.4 L387.3 336.7 L389.6 337.2 L391.8 338.6 L394.1 339.5 L396.4 339.6 L398.7 340.5 L401.0 342.0 L403.2 342.6 L405.5 342.9 L407.8 344.3 L410.1 345.8 L412.4 346.3 L414.7 347.0 L416.9 348.6 L419.2 349.9 L421.5 350.2" stroke-width="2.4"/>
<path d="M403.2 342.6 L405.5 342.9 L407.8 344.3 L410.1 345.8 L412.4 346.3 L414.7 347.0 L416.9 348.6 L419.2 349.9 L421.5 350.2" stroke-width="3.9"/>
<path d="M388.0 340.7 L390.2 340.9 L392.5 342.1 L394.8 343.4 L397.0 343.7 L399.2 344.1 L401.5 345.6 L403.8 346.7 L406.0 346.9 L408.2 347.8 L410.5 349.5 L412.8 350.4 L415.0 350.8 L417.2 352.2 L419.5 353.8 L421.8 354.5 L424.0 355.1" stroke-width="2.4"/>
<path d="M406.0 346.9 L408.2 347.8 L410.5 349.5 L412.8 350.4 L415.0 350.8 L417.2 352.2 L419.5 353.8 L421.8 354.5 L424.0 355.1" stroke-width="3.9"/>
<path d="M391.5 345.3 L393.7 346.0 L395.9 347.5 L398.2 348.3 L400.4 348.5 L402.6 349.6 L404.8 351.0 L407.0 351.5 L409.2 352.0 L411.5 353.5 L413.7 354.9 L415.9 355.4 L418.1 356.2 L420.3 358.0 L422.6 359.1 L424.8 359.6 L427.0 360.8" stroke-width="2.4"/>
<path d="M411.5 353.5 L413.7 354.9 L415.9 355.4 L418.1 356.2 L420.3 358.0 L422.6 359.1 L424.8 359.6 L427.0 360.8" stroke-width="3.9"/>
<path d="M376.3 305.3 L376.3 305.5 L376.4 305.7 L376.4 305.9 L376.4 306.0 L376.5 306.2 L376.5 306.4 L376.6 306.6 L376.6 306.8 L376.6 307.0 L376.7 307.1 L376.7 307.3 L376.7 307.5 L376.8 307.7 L376.8 307.9 L376.8 308.1 L376.9 308.2 L376.9 308.4 L376.9 308.6 L377.0 308.8 L377.0 309.0 L377.0 309.2 L377.1 309.3 L377.1 309.5 L377.1 309.7 L377.2 309.9 L377.2 310.1 L377.3 310.3 L377.3 310.4 L377.3 310.6 L377.4 310.8 L377.4 311.0 L377.4 311.2 L377.5 311.4 L377.5 311.5 L377.5 311.7 L377.6 311.9 L377.6 312.1 L377.6 312.3 L377.7 312.5 L377.7 312.6 L377.7 312.8 L377.8 313.0 L377.8 313.2 L377.8 313.4 L377.9 313.6 L377.9 313.7 L377.9 313.9 L378.0 314.1 L378.0 314.3 L378.0 314.5 L378.1 314.7 L378.1 314.9 L378.2 315.0 L378.2 315.2 L378.2 315.4 L378.3 315.6 L378.3 315.8 L378.3 316.0 L378.4 316.1 L378.4 316.3 L378.4 316.5 L378.5 316.7 L378.5 316.9 L378.5 317.1 L378.6 317.2 L378.6 317.4 L378.7 317.6 L378.7 317.8 L378.7 318.0 L378.8 318.2 L378.8 318.3 L378.8 318.5 L378.9 318.7 L378.9 318.9 L378.9 319.1 L379.0 319.3 L379.0 319.4 L379.1 319.6 L379.1 319.8 L379.1 320.0 L379.2 320.2 L379.2 320.4 L379.2 320.5 L379.3 320.7 L379.3 320.9 L379.4 321.1 L379.4 321.3 L379.4 321.4 L379.5 321.6 L379.5 321.8 L379.6 322.0 L379.6 322.2 L379.7 322.4 L379.7 322.5 L379.7 322.7 L379.8 322.9 L379.8 323.1 L379.9 323.3 L379.9 323.5 L380.0 323.6 L380.0 323.8 L380.0 324.0 L380.1 324.2 L380.1 324.4 L380.2 324.5 L380.2 324.7 L380.3 324.9 L380.3 325.1 L380.4 325.3 L380.4 325.4 L380.4 325.6 L380.5 325.8 L380.5 326.0 L380.6 326.2 L380.6 326.4 L380.7 326.5 L380.7 326.7 L380.8 326.9 L380.8 327.1 L380.9 327.3 L380.9 327.4 L381.0 327.6 L381.1 327.8 L381.1 328.0 L381.2 328.1 L381.2 328.3 L381.3 328.5 L381.4 328.7 L381.4 328.8 L381.5 329.0 L381.6 329.2 L381.6 329.4 L381.7 329.5 L381.8 329.7 L381.8 329.9 L381.9 330.1 L382.0 330.2 L382.1 330.4 L382.2 330.6 L382.2 330.7 L382.3 330.9 L382.4 331.1 L382.5 331.2 L382.6 331.4 L382.6 331.6 L382.7 331.7 L382.8 331.9 L382.9 332.1 L383.0 332.2" stroke-width="2.6"/>
<path d="M376 304.2 L377.3 310" stroke-width="3.6"/>
<path d="M396.0 352.0 L397.8 352.9 L399.6 353.9 L401.4 354.9 L403.3 355.9 L405.1 356.8 L406.9 357.7 L408.8 358.5 L410.8 359.3 L412.7 359.8 L414.7 360.3 L416.8 360.7 L418.8 361.1 L420.8 361.6 L422.8 362.0 L424.8 362.6 L426.7 363.4 L428.4 364.5 L429.9 365.9 L431.1 367.6 L432.2 369.3 L433.1 371.2 L434.2 373.0 L435.3 374.7 L436.7 376.2 L438.1 377.7 L439.5 379.2 L441.0 380.6 L442.5 382.0 L444.1 383.4 L445.6 384.7 L447.1 386.1 L448.7 387.5 L450.2 388.8 L451.8 390.2 L453.4 391.4 L455.0 392.7 L456.7 394.0 L458.3 395.2 L459.9 396.5 L461.5 397.8 L463.1 399.1 L464.8 400.3 L466.4 401.6 L468.0 402.9 L469.6 404.1 L471.3 405.4 L472.9 406.7 L474.5 407.9 L476.2 409.1 L477.8 410.3 L479.5 411.6 L481.2 412.8 L482.9 413.9 L484.6 415.1 L486.2 416.3 L487.9 417.5 L489.6 418.6 L491.3 419.8 L493.0 421.0" stroke-width="2.9"/>
<path d="M396.3 352.3 L398.0 353.5 L399.6 354.7 L401.2 355.8 L402.9 357.0 L404.5 358.1 L406.2 359.2 L408.0 360.3 L409.7 361.2 L411.5 362.1 L413.3 362.9 L415.1 363.6 L417.0 364.4 L418.8 365.1 L420.6 365.9 L422.4 366.7 L424.2 367.7 L425.9 368.9 L427.4 370.3 L428.7 371.8 L429.9 373.4 L431.1 375.1 L432.3 376.7 L433.6 378.2 L435.0 379.7 L436.5 381.1 L438.0 382.5 L439.5 383.8 L441.0 385.2 L442.6 386.5 L444.2 387.8 L445.8 389.1 L447.4 390.3 L449.0 391.6 L450.6 392.8 L452.2 394.0 L453.9 395.2 L455.5 396.4 L457.2 397.6 L458.9 398.8 L460.5 400.0 L462.2 401.2 L463.8 402.4 L465.5 403.6 L467.1 404.8 L468.8 406.0 L470.5 407.2 L472.1 408.3 L473.8 409.5 L475.5 410.6 L477.2 411.8 L478.9 412.9 L480.6 414.0 L482.3 415.1 L484.0 416.2 L485.8 417.3 L487.5 418.4 L489.2 419.5 L490.9 420.6 L492.7 421.7" stroke-width="2.9"/>
<path d="M396.7 352.7 L398.1 354.0 L399.6 355.4 L401.0 356.8 L402.5 358.1 L404.0 359.5 L405.5 360.7 L407.1 362.0 L408.6 363.2 L410.3 364.3 L411.9 365.4 L413.5 366.5 L415.1 367.6 L416.8 368.7 L418.4 369.7 L420.1 370.9 L421.7 372.0 L423.3 373.3 L424.8 374.6 L426.2 376.0 L427.6 377.5 L429.0 379.0 L430.4 380.4 L431.8 381.8 L433.3 383.2 L434.8 384.5 L436.4 385.8 L438.0 387.1 L439.5 388.3 L441.1 389.6 L442.8 390.8 L444.4 392.0 L446.1 393.2 L447.7 394.3 L449.4 395.5 L451.1 396.6 L452.7 397.8 L454.4 398.9 L456.1 400.0 L457.8 401.1 L459.5 402.3 L461.2 403.4 L462.9 404.5 L464.6 405.6 L466.3 406.7 L468.0 407.8 L469.7 408.9 L471.4 410.0 L473.1 411.1 L474.8 412.2 L476.5 413.2 L478.3 414.3 L480.0 415.3 L481.8 416.3 L483.5 417.3 L485.3 418.3 L487.1 419.3 L488.8 420.3 L490.6 421.3 L492.3 422.3" stroke-width="2.9"/>
<path d="M397.0 353.0 L398.3 354.6 L399.5 356.1 L400.8 357.7 L402.1 359.3 L403.4 360.8 L404.8 362.3 L406.2 363.7 L407.6 365.2 L409.0 366.6 L410.4 368.0 L411.9 369.4 L413.3 370.8 L414.8 372.2 L416.3 373.6 L417.7 375.0 L419.2 376.3 L420.7 377.7 L422.3 379.0 L423.8 380.3 L425.3 381.6 L426.9 382.9 L428.5 384.1 L430.0 385.4 L431.6 386.6 L433.2 387.9 L434.8 389.1 L436.4 390.3 L438.1 391.5 L439.7 392.7 L441.4 393.8 L443.0 394.9 L444.7 396.0 L446.4 397.1 L448.2 398.2 L449.9 399.2 L451.6 400.3 L453.3 401.4 L455.0 402.4 L456.7 403.5 L458.5 404.5 L460.2 405.6 L461.9 406.6 L463.6 407.6 L465.4 408.7 L467.1 409.7 L468.9 410.7 L470.6 411.7 L472.4 412.7 L474.1 413.7 L475.9 414.6 L477.7 415.6 L479.4 416.5 L481.2 417.5 L483.0 418.4 L484.8 419.3 L486.6 420.2 L488.4 421.1 L490.2 422.1 L492.0 423.0" stroke-width="2.9"/>
<path d="M463.3 403.5 L465.0 404.6 L466.7 405.8 L468.4 406.9 L470.1 408.0 L471.7 409.2 L473.4 410.3 L475.1 411.4 L476.9 412.5 L478.6 413.6 L480.3 414.6 L482.1 415.7 L483.8 416.8 L485.5 417.8 L487.3 418.8 L489.0 419.9 L490.8 420.9 L492.5 422.0" stroke-width="4.5"/>
</g>
<path d="M433 373.5 L441 380 L449 386.5 L456 392 L464 398.5" fill="none" stroke="#000" stroke-width="2.2" stroke-dasharray="5 2.5 3 1.5" stroke-linecap="round"/>
<g stroke="#000" stroke-width="3.4" fill="none" stroke-linecap="butt">
<path d="M75.5 1.5 H511.3"/>
<path d="M83.6 1.5 V428.7"/>
<path d="M509.6 1.5 V440.5"/>
<path d="M75.5 427.0 H509.6"/>
<path d="M68.5 391.5 H83.6"/>
<path d="M75.5 356.1 H83.6"/>
<path d="M68.5 320.6 H83.6"/>
<path d="M75.5 285.2 H83.6"/>
<path d="M68.5 249.7 H83.6"/>
<path d="M75.5 214.2 H83.6"/>
<path d="M68.5 178.8 H83.6"/>
<path d="M75.5 143.3 H83.6"/>
<path d="M68.5 107.9 H83.6"/>
<path d="M75.5 72.4 H83.6"/>
<path d="M68.5 37.0 H83.6"/>
<path d="M83.6 427.0 V435"/>
<path d="M144.5 427.0 V440.5"/>
<path d="M205.3 427.0 V435"/>
<path d="M266.2 427.0 V440.5"/>
<path d="M327.0 427.0 V435"/>
<path d="M387.9 427.0 V440.5"/>
<path d="M448.7 427.0 V435"/>
<path d="M509.6 427.0 V440.5"/>
</g>
<g font-family="'Liberation Sans', Arial, sans-serif" font-size="24" fill="#000">
<text x="64" y="400.1" text-anchor="end">68</text>
<text x="64" y="329.2" text-anchor="end">70</text>
<text x="64" y="258.3" text-anchor="end">72</text>
<text x="64" y="187.4" text-anchor="end">74</text>
<text x="64" y="116.5" text-anchor="end">76</text>
<text x="64" y="45.6" text-anchor="end">78</text>
<text x="144.0" y="465.3" text-anchor="middle">22</text>
<text x="265.7" y="465.3" text-anchor="middle">24</text>
<text x="387.4" y="465.3" text-anchor="middle">26</text>
<text x="509.1" y="465.3" text-anchor="middle">28</text>
<text transform="translate(19.6,274.4) rotate(-90)" font-size="24.7">Delta [º]</text>
<text x="265.9" y="492">Psi [º]</text>
<g font-weight="bold" font-size="27"><text x="205.3" y="36.8">35 eV, C</text><text x="310.6" y="47.6" font-size="16.5">4</text><text x="321.3" y="36.8">F</text><text x="337.4" y="47.6" font-size="16.5">8</text><text x="345.8" y="36.8">, 20s ESL</text></g>
<text x="340" y="76">FC</text><text x="387" y="76">Selectivity</text>
<text x="346.5" y="106.8">3 Å</text><text x="411" y="106.8">0.49</text>
<text x="346.5" y="136.4">8 Å</text><text x="411" y="136.4">0.77</text>
<text x="346.5" y="166">11 Å</text><text x="411" y="166">13.63</text>
<text x="354" y="194.6">CF</text><text x="386.8" y="204.2" font-size="13.5">4</text><text x="400.3" y="194.6">CW etch</text>
<text x="106.5" y="324">For thick FC,</text>
<text x="106.5" y="354">FC accumulated</text>
<text x="106.5" y="384">at SiO<tspan font-size="16" dy="9">2</tspan><tspan dy="-9">-Si</tspan><tspan font-size="16" dy="9">3</tspan><tspan dy="-9">N</tspan><tspan font-size="16" dy="9">4</tspan><tspan dy="-9"> interface</tspan></text>
</g>
<rect x="316.4" y="94.9" width="6" height="6" fill="#000"/>
<rect x="316.4" y="124.6" width="6" height="6" fill="#f20a0a"/>
<rect x="316.4" y="154.3" width="6" height="6" fill="#0a0ae6"/>
<rect x="316.4" y="183.9" width="6" height="6" fill="#f20df2"/>
</svg>
</body></html>
